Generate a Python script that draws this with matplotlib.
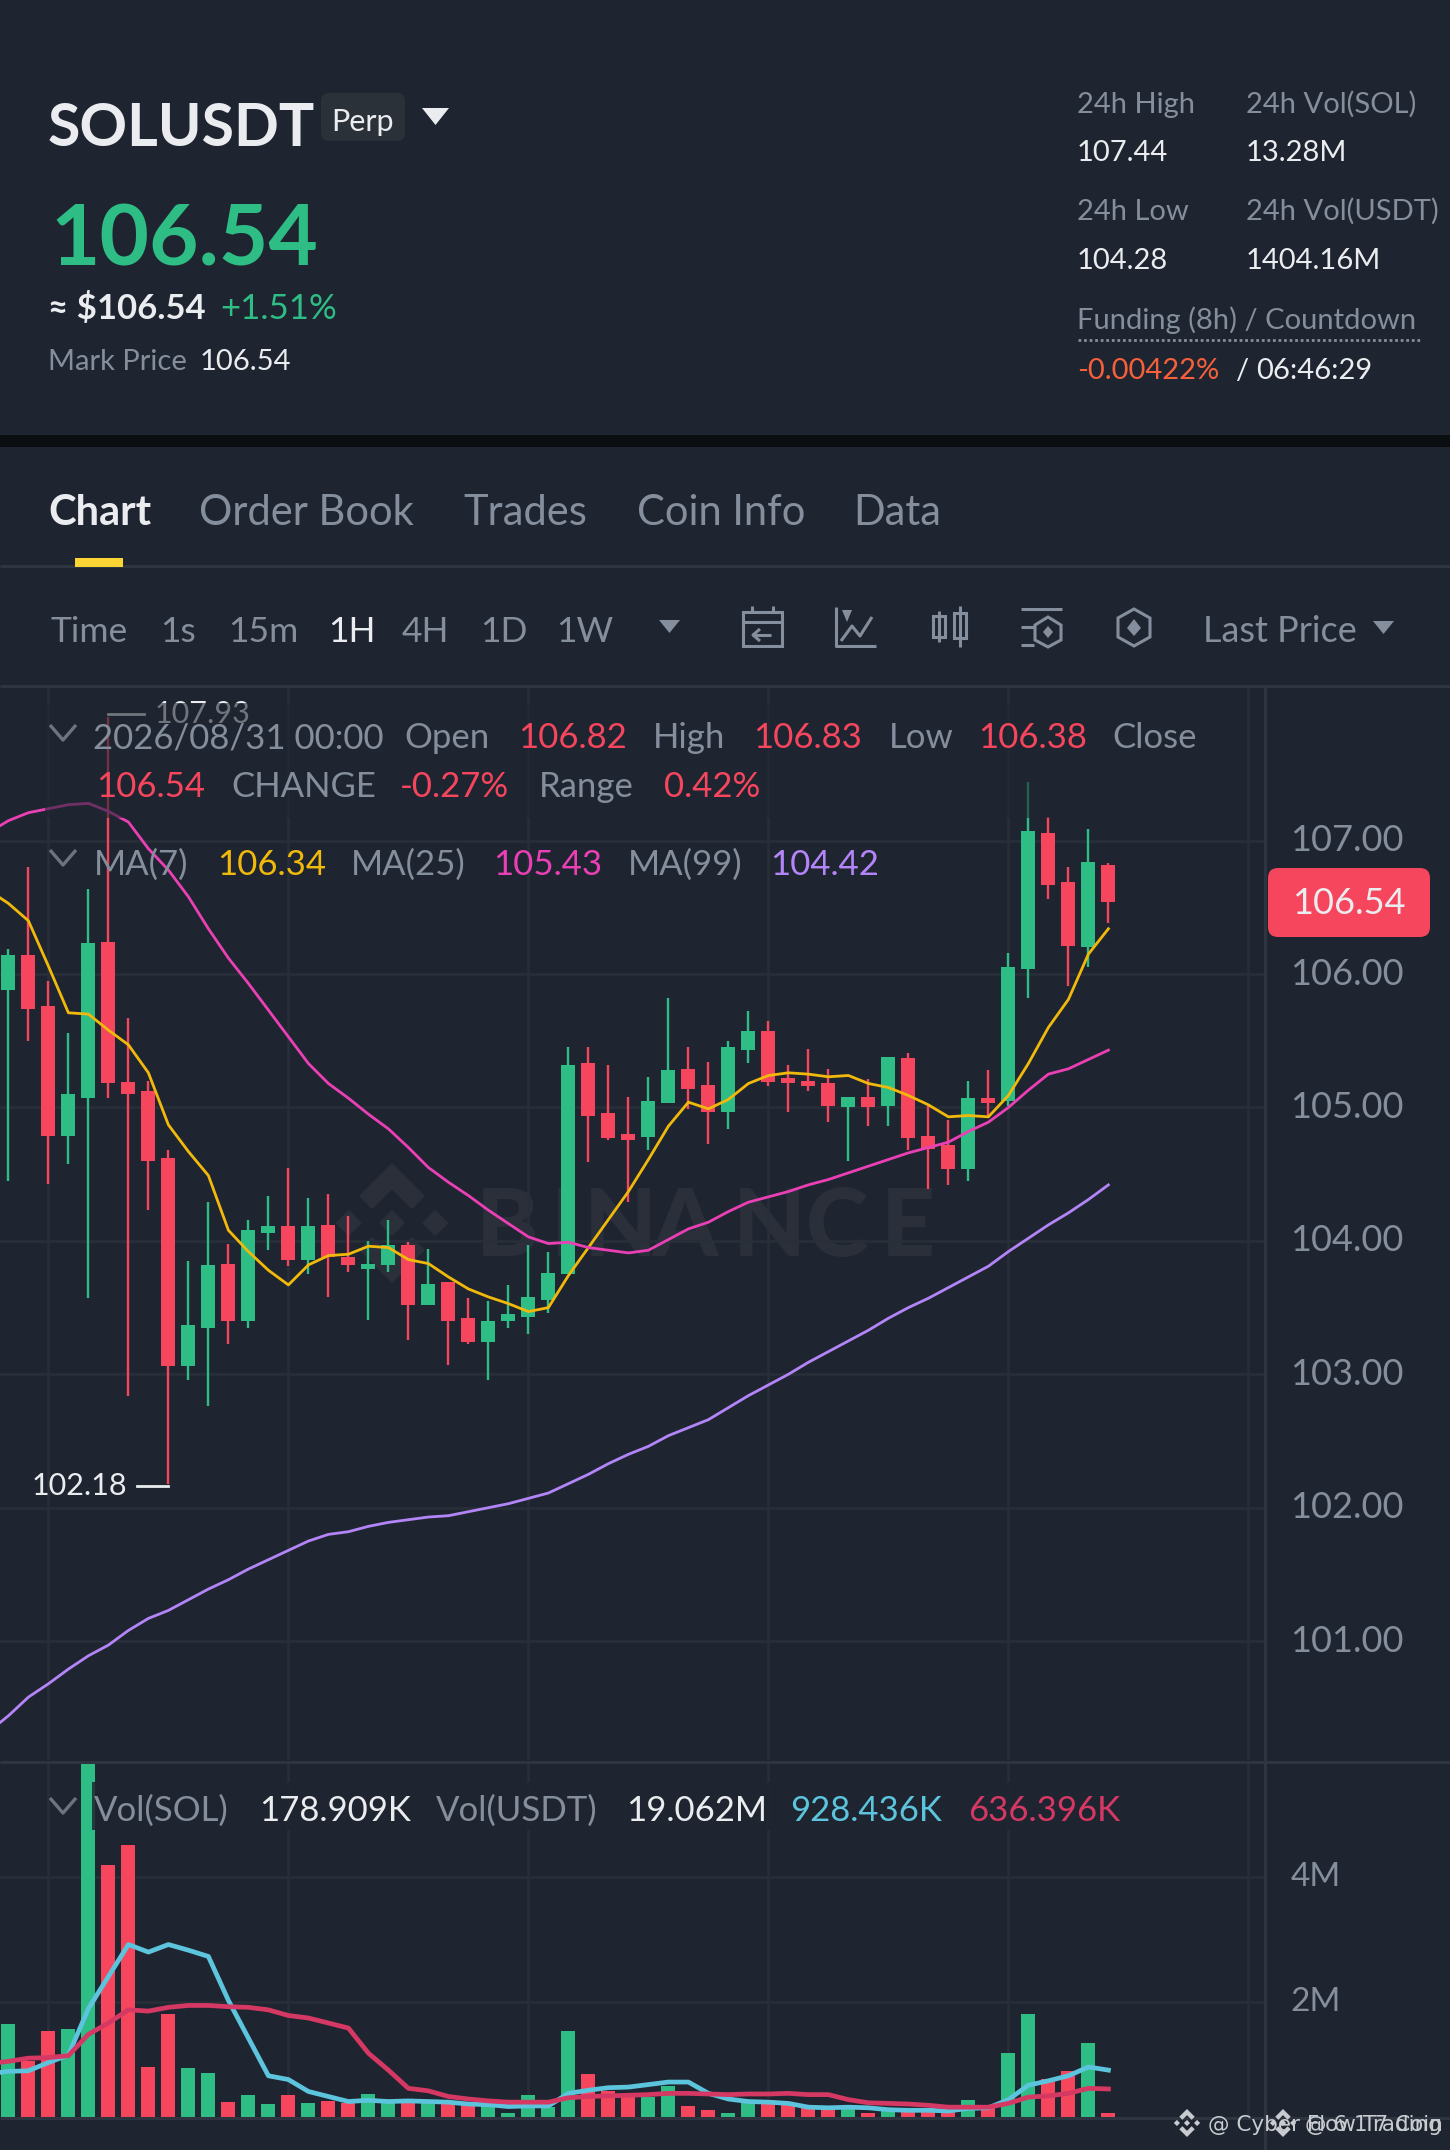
import matplotlib
matplotlib.use("Agg")
import matplotlib.pyplot as plt
import numpy as np
from matplotlib.patches import FancyBboxPatch, Polygon, Rectangle
from matplotlib.transforms import ScaledTranslation

plt.rcParams['font.family'] = ['Lato', 'DejaVu Sans']

BG = '#1f2530'
GRID = '#292f39'
EDGE = '#2e3440'
GREEN = '#2ebd85'
RED = '#f6465d'
GRAY = '#848e9c'
WHITE = '#eaecef'

# hourly candles
opens = [105.88, 106.14, 105.76, 104.79, 105.07, 106.24, 105.19, 105.12, 104.62, 103.06,
         103.35, 103.83, 103.40, 104.06, 104.11, 103.86, 104.12, 103.88, 103.79, 103.82,
         103.97, 103.52, 103.69, 103.42, 103.24, 103.40, 103.43, 103.56, 103.75, 105.33,
         104.96, 104.80, 104.78, 105.03, 105.29, 105.17, 104.97, 105.43, 105.57, 105.22,
         105.20, 105.18, 105.00, 105.08, 105.01, 105.37, 104.79, 104.72, 104.54, 105.07,
         105.05, 106.04, 107.06, 106.69, 106.20, 106.82]
closes = [106.14, 105.74, 104.79, 105.10, 106.23, 105.18, 105.10, 104.60, 103.06, 103.37,
          103.82, 103.40, 104.08, 104.11, 103.86, 104.11, 103.88, 103.82, 103.83, 103.97,
          103.52, 103.68, 103.40, 103.24, 103.40, 103.45, 103.58, 103.76, 105.32, 104.94,
          104.77, 104.76, 105.05, 105.28, 105.14, 104.97, 105.45, 105.57, 105.19, 105.18,
          105.16, 105.01, 105.08, 105.00, 105.38, 104.77, 104.69, 104.54, 105.07, 105.03,
          106.05, 107.07, 106.67, 106.21, 106.84, 106.54]
highs = [106.19, 106.80, 105.95, 105.56, 106.64, 107.93, 105.67, 105.20, 104.68, 103.85,
         104.29, 103.98, 104.16, 104.34, 104.55, 104.32, 104.35, 104.19, 104.00, 104.16,
         103.99, 103.94, 103.69, 103.57, 103.55, 103.67, 103.97, 103.92, 105.45, 105.45,
         105.32, 105.08, 105.23, 105.82, 105.45, 105.34, 105.50, 105.72, 105.65, 105.32,
         105.44, 105.29, 105.08, 105.21, 105.38, 105.41, 105.01, 104.91, 105.20, 105.28,
         106.16, 107.44, 107.18, 106.80, 107.09, 106.83]
lows = [104.45, 105.50, 104.43, 104.58, 103.57, 105.07, 102.84, 104.23, 102.18, 102.96,
        102.76, 103.23, 103.35, 103.93, 103.81, 103.75, 103.58, 103.77, 103.41, 103.77,
        103.26, 103.52, 103.07, 103.23, 102.96, 103.35, 103.30, 103.46, 103.75, 104.59,
        104.76, 104.29, 104.68, 105.03, 104.99, 104.73, 104.84, 105.33, 105.16, 104.97,
        105.12, 104.89, 104.60, 104.86, 104.86, 104.68, 104.39, 104.42, 104.45, 104.93,
        105.01, 105.82, 106.56, 105.91, 106.05, 106.38]

# moving averages start one bar left of the first visible candle
ma7 = [106.63, 106.53, 106.40, 106.06, 105.71, 105.70, 105.58, 105.47, 105.26, 104.87, 104.67,
       104.49, 104.08, 103.92, 103.78, 103.67, 103.82, 103.89, 103.90, 103.96, 103.95,
       103.86, 103.83, 103.73, 103.64, 103.58, 103.53, 103.47, 103.50, 103.74, 103.95,
       104.16, 104.37, 104.61, 104.86, 105.04, 104.99, 105.06, 105.18, 105.24, 105.26,
       105.25, 105.23, 105.24, 105.18, 105.15, 105.09, 105.02, 104.93, 104.94, 104.93,
       105.09, 105.33, 105.60, 105.81, 106.15, 106.34]
ma25 = [107.06, 107.15, 107.21, 107.24, 107.27, 107.28, 107.22, 107.14, 106.94, 106.78, 106.58,
        106.34, 106.12, 105.93, 105.73, 105.53, 105.33, 105.18, 105.07, 104.95, 104.84,
        104.70, 104.55, 104.44, 104.34, 104.23, 104.13, 104.03, 103.98, 103.99, 103.95,
        103.93, 103.91, 103.93, 104.01, 104.09, 104.14, 104.22, 104.29, 104.33, 104.37,
        104.42, 104.46, 104.51, 104.56, 104.61, 104.66, 104.70, 104.74, 104.82, 104.89,
        105.00, 105.13, 105.25, 105.29, 105.36, 105.43]
ma99 = [100.32, 100.44, 100.58, 100.68, 100.79, 100.89, 100.97, 101.08, 101.17, 101.23, 101.31,
        101.39, 101.46, 101.54, 101.61, 101.68, 101.75, 101.80, 101.82, 101.86, 101.89,
        101.91, 101.93, 101.94, 101.97, 102.00, 102.03, 102.07, 102.11, 102.18, 102.25,
        102.33, 102.40, 102.46, 102.54, 102.60, 102.66, 102.75, 102.84, 102.92, 103.00,
        103.09, 103.17, 103.25, 103.33, 103.42, 103.50, 103.57, 103.65, 103.73, 103.81,
        103.92, 104.02, 104.12, 104.21, 104.31, 104.42]

# volume in millions
vol = [1.65, 1.06, 1.54, 1.57, 5.80, 4.18, 4.51, 0.97, 1.81, 0.96,
       0.87, 0.41, 0.53, 0.38, 0.52, 0.40, 0.43, 0.39, 0.54, 0.42,
       0.39, 0.39, 0.39, 0.39, 0.37, 0.23, 0.53, 0.33, 1.55, 0.86,
       0.58, 0.53, 0.50, 0.66, 0.35, 0.29, 0.23, 0.39, 0.45, 0.39,
       0.31, 0.31, 0.34, 0.23, 0.31, 0.31, 0.31, 0.31, 0.45, 0.34,
       1.20, 1.81, 0.78, 0.90, 1.35, 0.23]
vol_ma7 = [0.86, 0.90, 0.91, 1.04, 1.16, 1.90, 2.41, 2.92, 2.80, 2.92, 2.83,
           2.73, 2.03, 1.43, 0.83, 0.77, 0.58, 0.50, 0.42, 0.44, 0.42,
           0.43, 0.42, 0.41, 0.38, 0.37, 0.34, 0.35, 0.35, 0.55, 0.60,
           0.64, 0.65, 0.69, 0.73, 0.73, 0.55, 0.46, 0.42, 0.41, 0.39,
           0.33, 0.32, 0.33, 0.32, 0.29, 0.28, 0.28, 0.27, 0.31, 0.32,
           0.45, 0.68, 0.75, 0.83, 0.97, 0.92]
vol_ma25 = [1.02, 1.06, 1.11, 1.12, 1.15, 1.49, 1.67, 1.88, 1.86, 1.92, 1.95,
            1.95, 1.93, 1.92, 1.88, 1.79, 1.75, 1.67, 1.59, 1.19, 0.92,
            0.63, 0.59, 0.50, 0.46, 0.43, 0.41, 0.41, 0.41, 0.48, 0.50,
            0.51, 0.52, 0.53, 0.55, 0.55, 0.54, 0.53, 0.54, 0.54, 0.55,
            0.53, 0.53, 0.45, 0.40, 0.39, 0.38, 0.36, 0.33, 0.33, 0.33,
            0.39, 0.49, 0.51, 0.55, 0.63, 0.62]

price_ticks = [101, 102, 103, 104, 105, 106, 107]
vol_ticks = [2, 4]
time_ticks = [2, 14, 26, 38, 50, 62]
intervals = ['Time', '1s', '15m', '1H', '4H', '1D', '1W']
tabs = ['Chart', 'Order Book', 'Trades', 'Coin Info', 'Data']

W, H = 1450, 2150
fig = plt.figure(figsize=(W / 100, H / 100), dpi=100, facecolor=BG)


def px_axes(left, top, right, bottom, **kw):
    return fig.add_axes([left / W, 1 - bottom / H, (right - left) / W, (bottom - top) / H], **kw)


def logo(ax, cx, cy, r, color, **kw):
    top = [(0, 1), (.55, .45), (.33, .23), (0, .56), (-.33, .23), (-.55, .45)]
    for shape in (top, [(x, -y) for x, y in top]):
        ax.add_patch(Polygon([(cx + x * r, cy + y * r) for x, y in shape], fc=color, ec='none', **kw))
    for dx in (-.72, 0, .72):
        ax.add_patch(Polygon([(cx + (dx + x) * r, cy + y * r) for x, y in
                              [(.22, 0), (0, .22), (-.22, 0), (0, -.22)]], fc=color, ec='none', **kw))


# background layer, sits behind the candles
back = px_axes(0, 0, W, H, zorder=-1)
back.set_xlim(0, W)
back.set_ylim(H, 0)
back.axis('off')
logo(back, 392, 1223, 60, '#2a2f3a')
for x, ch in zip([476, 551, 584, 652, 733, 806, 881], 'BINANCE'):
    back.text(x, 1256, ch, fontsize=68, fontweight=900, color='#2a2f3a')

# price panel
xs = np.arange(len(opens))
ma_xs = np.arange(len(ma7)) - 1
ax = px_axes(0, 687, 1265, 1760)
ax.patch.set_alpha(0)
ax.set_xlim((0 - 8.4) / 20, (1265 - 8.4) / 20)
ax.set_ylim(107 - (1760 - 840.7) / 133.4, 107 + (840.7 - 687) / 133.4)
ax.set_yticks(price_ticks, ['%.2f' % p for p in price_ticks])
ax.set_xticks(time_ticks)
ax.grid(True, color=GRID, lw=1.8)
ax.set_axisbelow(True)
ax.tick_params(axis='x', length=0, labelbottom=False)
ax.tick_params(axis='y', length=0, left=False, labelleft=False, labelright=True, pad=18,
               labelsize=26, labelcolor=GRAY)
for s in ax.spines.values():
    s.set_visible(False)

colors = [GREEN if c >= o else RED for o, c in zip(opens, closes)]
ax.vlines(xs, lows, highs, colors=colors, lw=1.7, zorder=3)
ax.bar(xs, np.abs(np.subtract(closes, opens)), bottom=np.minimum(opens, closes),
       width=0.7, color=colors, zorder=3)
ax.plot(ma_xs, ma7, color='#f0b90b', lw=2, zorder=4)
ax.plot(ma_xs, ma25, color='#eb40b5', lw=2, zorder=4)
ax.plot(ma_xs, ma99, color='#b385f8', lw=2, zorder=4)

hi_i = int(np.argmax(highs))
lo_i = int(np.argmin(lows))
ax.plot([hi_i, hi_i + 1.8], [highs[hi_i] + .02] * 2, color=WHITE, lw=2, zorder=4)
ax.plot([lo_i - 1.55, lo_i], [lows[lo_i] - .02] * 2, color=WHITE, lw=2, zorder=4)
ax.annotate('%.2f' % highs[hi_i], (hi_i + 1.8, highs[hi_i]), xytext=(7, 2), textcoords='offset points',
            va='center', fontsize=22, color=WHITE, zorder=4)
ax.annotate('%.2f' % lows[lo_i], (lo_i - 1.55, lows[lo_i]), xytext=(-7, -2), textcoords='offset points',
            va='center', ha='right', fontsize=22, color=WHITE, zorder=4)

# volume panel
vax = px_axes(0, 1763, 1265, 2117)
vax.patch.set_alpha(0)
vax.set_xlim(ax.get_xlim())
vax.set_ylim(2 - (2117 - 2002.3) / 62.8, 2 + (2002.3 - 1763) / 62.8)
vax.set_yticks(vol_ticks, ['%dM' % v for v in vol_ticks])
vax.set_xticks(time_ticks)
vax.grid(True, color=GRID, lw=1.8)
vax.set_axisbelow(True)
vax.tick_params(axis='x', length=0, labelbottom=False)
vax.tick_params(axis='y', length=0, left=False, labelleft=False, labelright=True, pad=18.5,
                labelsize=24, labelcolor=GRAY)
for s in vax.spines.values():
    s.set_visible(False)
vax.bar(xs, vol, width=0.7, color=colors, zorder=3)
vax.plot(ma_xs, vol_ma7, color='#5cc4dc', lw=3.4, zorder=4)
vax.plot(ma_xs, vol_ma25, color='#d63864', lw=3.4, zorder=4)

# axis labels sit a little above their grid lines
for a in (ax, vax):
    for lab in a.get_yticklabels():
        lab.set_transform(lab.get_transform() + ScaledTranslation(0, 3 / 100, fig.dpi_scale_trans))

# app chrome and labels, in pixel coordinates
ui = px_axes(0, 0, W, H)
ui.set_xlim(0, W)
ui.set_ylim(H, 0)
ui.axis('off')


def t(x, y, s, size=25, color=GRAY, weight='normal', ha='left'):
    # bumped font sizes sit high, push the baseline down a touch
    ui.text(x, y + 2, s, fontsize=size, color=color, fontweight=weight, ha=ha, va='baseline', zorder=6)


def tri(x0, x1, y0, y1, color):
    ui.add_patch(Polygon([(x0, y0), (x1, y0), ((x0 + x1) / 2, y1)], fc=color, ec='none', zorder=6))


def line(x, y, color=GRAY, lw=2.2):
    ui.plot(x, y, color=color, lw=lw, zorder=6, solid_capstyle='butt')


# legend backdrops that dim what runs underneath
ui.add_patch(Rectangle((45, 703), 1165, 115, fc=BG, ec='none', alpha=.6, zorder=1))
ui.add_patch(Rectangle((92, 1782), 1033, 48, fc=BG, ec='none', alpha=.85, zorder=1))

ui.add_patch(Rectangle((0, 435), W, 12, fc='#0b0e11', ec='none', zorder=2))
for y in (565.5, 685.5, 1761.5, 2117.5):
    line([0, W], [y, y], EDGE, 2.2)
line([1265, 1265], [687, H], EDGE, 2.2)

t(48, 144, 'SOLUSDT', 42.5, WHITE, 'bold')
ui.add_patch(FancyBboxPatch((325, 97), 76, 40, boxstyle='round,pad=4,rounding_size=8',
                            fc='#2b3139', ec='none', zorder=2))
t(363, 129, 'Perp', 22, WHITE, ha='center')
tri(422, 449, 108, 125, WHITE)
t(50, 264, '106.54', 61.5, GREEN, 'bold')
t(48, 317, '≈ $106.54', 25, WHITE, 'bold')
t(220, 317, '+1.51%', 25, GREEN)
t(48, 368, 'Mark Price', 21, GRAY)
t(200, 368, '106.54', 21, WHITE)

t(1077, 110.7, '24h High', 21)
t(1246, 110.7, '24h Vol(SOL)', 21)
t(1077, 159, '107.44', 21, WHITE)
t(1246, 159, '13.28M', 21, WHITE)
t(1077, 218, '24h Low', 21)
t(1246, 218, '24h Vol(USDT)', 21)
t(1077, 267, '104.28', 21, WHITE)
t(1246, 267, '1404.16M', 21, WHITE)
t(1077, 327, 'Funding (8h) / Countdown', 21)
ui.plot([1078, 1422], [340, 340], color=GRAY, lw=2, ls=(0, (1, 1)), zorder=6)
t(1077, 377, '-0.00422%', 21, '#f6603a')
t(1235, 377, '/', 21, WHITE)
t(1256, 377, '06:46:29', 21, WHITE)

for x, s in zip([48, 199, 463, 637, 853], tabs):
    t(x, 523, s, 30, WHITE if s == 'Chart' else GRAY, 'bold' if s == 'Chart' else 'normal')
ui.add_patch(Rectangle((75, 558), 48, 9, fc='#fcd535', ec='none', zorder=6))

for x, s in zip([51, 160, 228, 328, 402, 480, 556], intervals):
    t(x, 640, s, 25.5, WHITE if s == '1H' else GRAY)
tri(659, 680, 620, 633, GRAY)
t(1203, 640, 'Last Price', 26)
tri(1373, 1394, 621, 634, GRAY)

# calendar icon
ui.add_patch(Rectangle((743, 612), 39, 34, fc='none', ec=GRAY, lw=2.2, zorder=6))
line([743, 782], [622, 622])
line([752, 752], [606, 612])
line([773, 773], [606, 612])
line([753, 771], [635, 635])
line([760, 753, 760], [629, 635, 641])
# chart icon
line([836, 836, 876], [607, 646, 646])
line([841, 852, 860, 872], [641, 626, 636, 617])
tri(842, 852, 610, 622, GRAY)
# candlestick icon
ui.add_patch(Rectangle((933, 616), 12, 21, fc='none', ec=GRAY, lw=2.2, zorder=6))
ui.add_patch(Rectangle((954, 613), 12, 25, fc='none', ec=GRAY, lw=2.2, zorder=6))
line([939, 939], [611, 642])
line([960, 960], [606, 647])
# filter icon
line([1021, 1062], [609, 609])
line([1021, 1034], [627, 627])
line([1021, 1034], [645, 645])
ui.add_patch(Polygon([(1048, 617), (1061, 625), (1061, 640), (1048, 647), (1035, 640), (1035, 625)],
                     fc='none', ec=GRAY, lw=2.2, zorder=6))
ui.add_patch(Polygon([(1048, 626), (1053, 632), (1048, 638), (1043, 632)], fc=GRAY, ec='none', zorder=6))
# hexagon icon
ui.add_patch(Polygon([(1134, 609), (1150, 618), (1150, 637), (1134, 646), (1118, 637), (1118, 618)],
                     fc='none', ec=GRAY, lw=2.2, zorder=6))
ui.add_patch(Polygon([(1134, 619), (1141, 628), (1134, 636), (1127, 628)], fc=GRAY, ec='none', zorder=6))

for yc in (733, 858):
    line([50, 63, 76], [yc - 8, yc + 7, yc - 8], '#6c7480', 2.4)
line([50, 63, 76], [1798, 1813, 1798], '#6c7480', 2.4)

row1 = [(93, '2026/08/31 00:00', GRAY), (404, 'Open', GRAY), (518, '106.82', RED), (653, 'High', GRAY),
        (753, '106.83', RED), (889, 'Low', GRAY), (978, '106.38', RED), (1112, 'Close', GRAY)]
row2 = [(96, '106.54', RED), (231, 'CHANGE', GRAY), (400, '-0.27%', RED), (539, 'Range', GRAY), (664, '0.42%', RED)]
row3 = [(94, 'MA(7)', GRAY), (217, '106.34', '#f0b90b'), (351, 'MA(25)', GRAY), (493, '105.43', '#eb40b5'),
        (628, 'MA(99)', GRAY), (770, '104.42', '#b385f8')]
for y, row in ((746, row1), (795, row2), (873, row3)):
    for x, s, c in row:
        t(x, y, s, 25, c)

row_vol = [(94, 'Vol(SOL)', GRAY), (259, '178.909K', WHITE), (436, 'Vol(USDT)', GRAY), (626, '19.062M', WHITE),
           (790, '928.436K', '#5cc4dc'), (968, '636.396K', '#d63864')]
for x, s, c in row_vol:
    t(x, 1819, s, 25, c)

ui.add_patch(FancyBboxPatch((1276, 876), 146, 53, boxstyle='round,pad=8,rounding_size=10',
                            fc=RED, ec='none', zorder=5))
t(1349, 912, '106.54', 26, WHITE, ha='center')

logo(ui, 1187, 2123, 14, '#c8ccd0', zorder=7)
logo(ui, 1283, 2123, 14, '#c8ccd0', zorder=7)
ui.text(1208, 2131, '@ Cyber Flow Trading', fontsize=15.5, family='DejaVu Sans', color='#c8ccd0', zorder=7)
ui.text(1305, 2131, '@ 6 1 7 Coin', fontsize=15.5, family='DejaVu Sans', color='#c8ccd0', zorder=7)

fig.savefig('out.png', dpi=100, facecolor=BG)
